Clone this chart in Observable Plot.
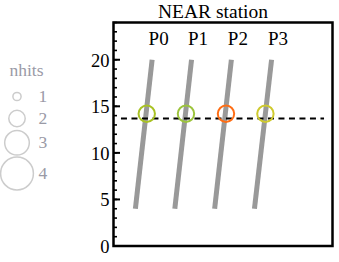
<!DOCTYPE html>
<html>
<head>
<meta charset="utf-8">
<script src="https://cdn.jsdelivr.net/npm/d3@7"></script>
<script src="https://cdn.jsdelivr.net/npm/@observablehq/plot@0.6"></script>
<style>
  body { margin: 0; background: white; }
  #wrap { position: relative; width: 339px; height: 262px; }
  #wrap svg { position: absolute; left: 0; top: 0; }
</style>
</head>
<body>
<div id="wrap"></div>
<script>
// ---- data ----
const title = "NEAR station";
const probes = ["P0", "P1", "P2", "P3"];
const wireBottomX = [0.55, 1.54, 2.54, 3.54];
const wireTopX = [0.97, 1.96, 2.96, 3.97];
const wireBottomY = [4, 4, 4, 4];
const wireTopY = [20, 20, 20, 20];
const hitX = [0.835, 1.82, 2.825, 3.815];
const hitY = [14.2, 14.2, 14.2, 14.2];
const hitN = [2, 2, 2, 2];
const hitColor = ["#a9c223", "#9dc43c", "#ff6d14", "#cfca2e"];
const threshold = 13.7;
const thresholdExtent = [0.2, 5.3];
const yMajorTicks = [0, 5, 10, 15, 20];
const yMinorTicks = d3.range(0, 25, 1);
const legendTitle = "nhits";
const legendValues = [1, 2, 3, 4];

// ---- layout ----
const W = 339, H = 262;
const mL = 113, mR = 7, mT = 22, mB = 16.5;
const xDomain = [0, 5.5];
const pxPerX = (W - mL - mR) / (xDomain[1] - xDomain[0]);
const rScale = {type: "linear", domain: [0, 4], range: [0, 16.4]};
const font = "Liberation Serif";

const wires = probes.map((p, i) => ({p, x1: wireBottomX[i], x2: wireTopX[i], y1: wireBottomY[i], y2: wireTopY[i]}));
const hits = probes.map((p, i) => ({p, x: hitX[i], y: hitY[i], n: hitN[i], c: hitColor[i]}));
const majorLen = 7 / pxPerX, minorLen = 4 / pxPerX;

const main = Plot.plot({
  width: W, height: H,
  marginLeft: mL, marginRight: mR, marginTop: mT, marginBottom: mB,
  style: {fontFamily: font, fontSize: "17px", background: "transparent", color: "black"},
  x: {domain: xDomain, axis: null},
  y: {domain: [0, 24], axis: null},
  r: rScale,
  color: {type: "identity"},
  marks: [
    Plot.link(wires, {x1: "x1", y1: "y1", x2: "x2", y2: "y2", stroke: "#999", strokeWidth: 5, strokeLinecap: "butt"}),
    Plot.ruleY([threshold], {x1: thresholdExtent[0], x2: thresholdExtent[1], stroke: "black", strokeWidth: 2, strokeDasharray: "6,4.5"}),
    Plot.dot(hits, {x: "x", y: "y", r: "n", stroke: "c", strokeWidth: 2, fill: "none"}),
    Plot.text(probes, {x: (d, i) => wireTopX[i], y: 22.2, text: d => d, dx: 6.5, fontSize: 19, fontFamily: font, fill: "black"}),
    Plot.ruleY(yMinorTicks, {y: d => d, x1: xDomain[0], x2: xDomain[0] + minorLen, stroke: "black", strokeWidth: 1.6}),
    Plot.ruleY(yMajorTicks, {y: d => d, x1: xDomain[0], x2: xDomain[0] + majorLen, stroke: "black", strokeWidth: 2}),
    Plot.text(yMajorTicks, {y: d => d, x: xDomain[0], text: d => String(d), dx: -4, dy: 1, textAnchor: "end", fontSize: 18.5, fontFamily: font, fill: "black"}),
    Plot.frame({stroke: "black", strokeWidth: 2.5}),
    Plot.text([title], {frameAnchor: "top", lineAnchor: "middle", dx: -10, dy: -10.5, fontSize: 19.5, fontFamily: font, fill: "black"})
  ]
});

// legend: stacked entries whose height follows circle size
const rPx = d3.scaleLinear(rScale.domain, rScale.range);
let cursorY = 85;
const legendData = legendValues.map(n => {
  const h = Math.max(20, 2 * rPx(n)) + 2;
  const cy = cursorY + h / 2;
  cursorY += h;
  return {n, cy};
});

const legend = Plot.plot({
  width: 60, height: H, margin: 0,
  style: {fontFamily: font, fontSize: "17px", background: "transparent"},
  x: {type: "identity", axis: null},
  y: {type: "identity", axis: null},
  r: rScale,
  marks: [
    Plot.dot(legendData, {x: 16.5, y: "cy", r: "n", stroke: "#ccc", strokeWidth: 1.5, fill: "none"}),
    Plot.text(legendData, {x: 38, y: "cy", text: d => String(d.n), textAnchor: "start", fill: "#9a9aa6", fontSize: 17.5, fontFamily: font}),
    Plot.text([legendTitle], {x: 26, y: 70, text: d => d, fill: "#9a9aa6", fontSize: 17.5, fontFamily: font})
  ]
});

const wrap = document.getElementById("wrap");
wrap.appendChild(main);
wrap.appendChild(legend);
</script>
</body>
</html>
